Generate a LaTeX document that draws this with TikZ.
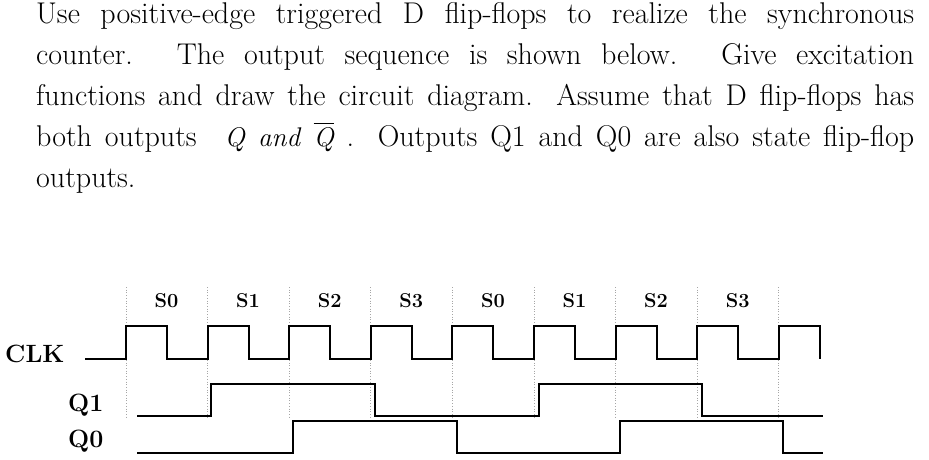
\documentclass[tikz,border=0pt]{standalone}
\usepackage{fontspec}
\newcommand\qbarsym{\vbox{\hrule height 1.5pt\kern 2.5pt\hbox{\itshape Q}}}
\begin{document}
\begin{tikzpicture}[x=1pt,y=-1pt,
  sig/.style={line width=1.9pt, line join=miter},
  gridln/.style={gray!70, dotted, line width=0.7pt},
  stlab/.style={font=\fontsize{20}{20}\selectfont\bfseries, inner sep=0},
  siglab/.style={font=\fontsize{25}{25}\selectfont\bfseries, inner sep=0, anchor=base west},
  txt/.style={font=\fontsize{30}{33}\selectfont, inner sep=0, anchor=base west}]
\useasboundingbox (0,0) rectangle (929,459);
% question text
\node[txt] (l1) at (36,23) {\makebox[878pt][s]{Use positive-edge triggered D flip-flops to realize the synchronous}};
\node[txt] (l2) at (36,64) {\makebox[878pt][s]{counter. The output sequence is shown below. Give excitation}};
\node[txt] (l3) at (36,105) {\makebox[878pt][s]{functions and draw the circuit diagram. Assume that D flip-flops has}};
\node[txt] (l4) at (36,146) {\makebox[878pt][s]{both outputs \hspace{2pt} {\fontsize{27}{27}\selectfont\itshape Q and \qbarsym} . Outputs Q1 and Q0 are also state flip-flop}};
\node[txt] (l5) at (36,187) {outputs.};
% grid lines
\foreach \i in {0,...,8} \draw[gridln] ({126+81.6*\i},287) -- ({126+81.6*\i},417);
% state labels
\foreach \s [count=\i from 0] in {S0,S1,S2,S3,S0,S1,S2,S3}
  \node[stlab] (s\i) at ({166.5+81.6*\i},301) {\s};
% signal labels
\node[siglab] (clk) at (5,362) {CLK};
\node[siglab] (q1) at (68,411) {Q1};
\node[siglab] (q0) at (68,447) {Q0};
% clock
\draw[sig] (85,359) \foreach \i in {0,...,8} { -- ({126+81.6*\i},359) -- ({126+81.6*\i},326) -- ({167+81.6*\i},326) -- ({167+81.6*\i},359) };
% Q1
\draw[sig] (137,416) -- (211,416) -- (211,384) -- (375,384) -- (375,416) -- (539,416) -- (539,384) -- (702,384) -- (702,416) -- (823,416);
% Q0
\draw[sig] (137,453) -- (293,453) -- (293,421) -- (457,421) -- (457,453) -- (620,453) -- (620,421) -- (783,421) -- (783,453) -- (823,453);
\end{tikzpicture}
\end{document}
